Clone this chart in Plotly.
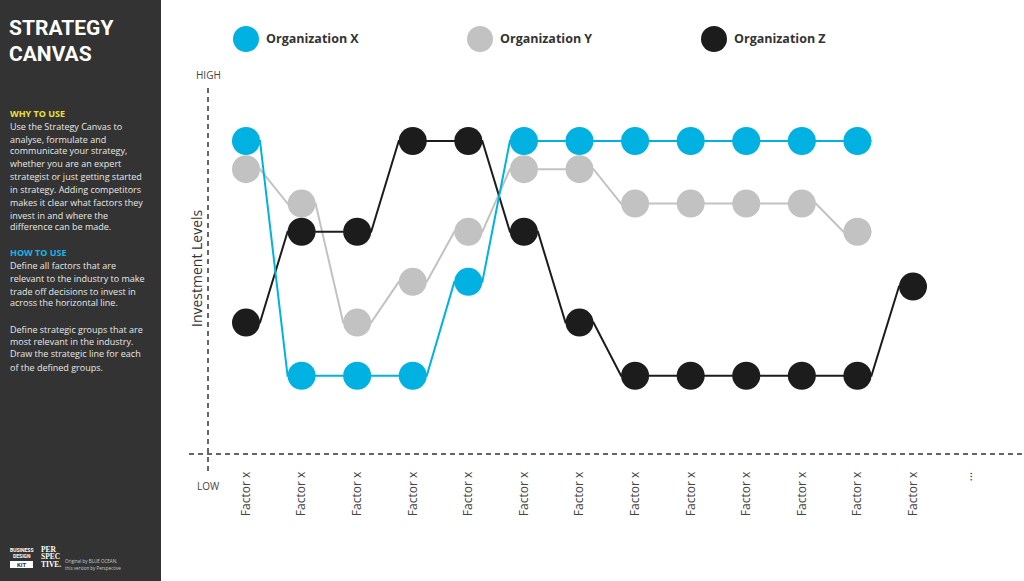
import plotly.graph_objects as go

W, H = 1024, 581

# ---- data ----
factors = list(range(1, 15))
factor_labels = ["Factor x"] * 13 + ["..."]
org_x = [10, 2.5, 2.5, 2.5, 5.5, 10, 10, 10, 10, 10, 10, 10]
org_y = [9.1, 8, 4.2, 5.5, 7.1, 9.1, 9.1, 8, 8, 8, 8, 7.1]
org_z = [4.2, 7.1, 7.1, 10, 10, 7.1, 4.2, 2.5, 2.5, 2.5, 2.5, 2.5, 5.35]
series_names = ["Organization X", "Organization Y", "Organization Z"]
series_colors = ["#00b1e1", "#c1c2c1", "#1c1c1c"]

# ---- helpers ----
def px(x):
    return x / W

def py(y):
    return 1 - y / H

sp = (913 - 246) / 12          # px per factor
MARKER = 28
r = (MARKER / 2) / sp          # marker radius in x data units

fig = go.Figure()

# draw order: gray, black, blue
for vals, name, col in [(org_y, series_names[1], series_colors[1]),
                        (org_z, series_names[2], series_colors[2]),
                        (org_x, series_names[0], series_colors[0])]:
    xs = factors[:len(vals)]
    lx, ly = [], []
    for xv, yv in zip(xs, vals):
        lx += [xv - r, xv + r]
        ly += [yv, yv]
    fig.add_trace(go.Scatter(x=lx, y=ly, mode="lines", line=dict(color=col, width=2),
                             showlegend=False, hoverinfo="skip"))
    fig.add_trace(go.Scatter(
        x=xs, y=vals, mode="markers", name=name,
        marker=dict(size=MARKER, color=col, line=dict(width=0)),
        showlegend=False, hoverinfo="skip"))

shapes = []
annotations = []

# sidebar
shapes.append(dict(type="rect", xref="paper", yref="paper", x0=0, x1=px(161), y0=0, y1=1,
                   fillcolor="#333333", line=dict(width=0), layer="below"))

# dashed axes
shapes.append(dict(type="line", xref="paper", yref="paper", x0=px(208), x1=px(208),
                   y0=py(88), y1=py(473), line=dict(color="#333333", width=1.5, dash="5px,4px")))
shapes.append(dict(type="line", xref="paper", yref="paper", x0=px(189), x1=1,
                   y0=py(454), y1=py(454), line=dict(color="#333333", width=1.5, dash="5px,4px")))

# legend (custom)
leg_pos = [246, 480, 714]
for cx, name, col in zip(leg_pos, series_names, series_colors):
    shapes.append(dict(type="circle", xref="paper", yref="paper", xsizemode="pixel", ysizemode="pixel",
                       xanchor=px(cx), yanchor=py(39), x0=-13, x1=13, y0=-13, y1=13,
                       fillcolor=col, line=dict(width=0)))
    annotations.append(dict(xref="paper", yref="paper", x=px(cx + 18), y=py(39), text="<b>%s</b>" % name,
                            showarrow=False, xanchor="left", yanchor="middle",
                            font=dict(family="Open Sans", size=12.5, color="#333333")))

# HIGH / LOW / axis title
annotations.append(dict(xref="paper", yref="paper", x=px(208), y=py(75), text="HIGH", showarrow=False,
                        xanchor="center", yanchor="middle", font=dict(family="Open Sans", size=10, color="#444444")))
annotations.append(dict(xref="paper", yref="paper", x=px(208), y=py(486), text="LOW", showarrow=False,
                        xanchor="center", yanchor="middle", font=dict(family="Open Sans", size=10, color="#444444")))
annotations.append(dict(xref="paper", yref="paper", x=px(196), y=py(268), text="Investment Levels", showarrow=False,
                        textangle=-90, xanchor="center", yanchor="middle",
                        font=dict(family="Open Sans", size=14, color="#333333")))

# sidebar texts
annotations.append(dict(xref="paper", yref="paper", x=px(7), y=py(28), text="<b>STRATEGY</b>", showarrow=False,
                        xanchor="left", yanchor="middle", font=dict(family="Roboto", size=21, color="#ffffff")))
annotations.append(dict(xref="paper", yref="paper", x=px(7), y=py(54), text="<b>CANVAS</b>", showarrow=False,
                        xanchor="left", yanchor="middle", font=dict(family="Roboto", size=21, color="#ffffff")))

side_lines = [
    (113, "<b>WHY TO USE</b>", "#eee236"),
    (126, "Use the Strategy Canvas to", "#e8e8e8"),
    (139, "analyse, formulate and", "#e8e8e8"),
    (151, "communicate your strategy,", "#e8e8e8"),
    (164, "whether you are an expert", "#e8e8e8"),
    (177, "strategist or just getting started", "#e8e8e8"),
    (189, "in strategy. Adding competitors", "#e8e8e8"),
    (202, "makes it clear what factors they", "#e8e8e8"),
    (215, "invest in and where the", "#e8e8e8"),
    (227, "difference can be made.", "#e8e8e8"),
    (253, "<b>HOW TO USE</b>", "#1ab4e6"),
    (265, "Define all factors that are", "#e8e8e8"),
    (278, "relevant to the industry to make", "#e8e8e8"),
    (291, "trade off decisions to invest in", "#e8e8e8"),
    (303, "across the horizontal line.", "#e8e8e8"),
    (329, "Define strategic groups that are", "#e8e8e8"),
    (341, "most relevant in the industry.", "#e8e8e8"),
    (354, "Draw the strategic line for each", "#e8e8e8"),
    (367, "of the defined groups.", "#e8e8e8"),
]
for yy, t, c in side_lines:
    annotations.append(dict(xref="paper", yref="paper", x=px(8), y=py(yy), text=t, showarrow=False,
                            xanchor="left", yanchor="middle",
                            font=dict(family="Open Sans", size=9, color=c)))

# logo block
for yy, t in [(550, "<b>BUSINESS</b>"), (556, "<b>DESIGN</b>")]:
    annotations.append(dict(xref="paper", yref="paper", x=px(22), y=py(yy), text=t, showarrow=False,
                            xanchor="center", yanchor="middle",
                            font=dict(family="Roboto", size=5, color="#ffffff")))
shapes.append(dict(type="rect", xref="paper", yref="paper", x0=px(10), x1=px(33), y0=py(568), y1=py(561),
                   fillcolor="#ffffff", line=dict(width=0)))
annotations.append(dict(xref="paper", yref="paper", x=px(21.5), y=py(564.5), text="<b>KIT</b>", showarrow=False,
                        xanchor="center", yanchor="middle", font=dict(family="Roboto", size=6, color="#333333")))
for yy, t in [(549, "<b>PER</b>"), (556.5, "<b>SPEC</b>"), (564, "<b>TIVE.</b>")]:
    annotations.append(dict(xref="paper", yref="paper", x=px(38.5), y=py(yy), text=t, showarrow=False,
                            xanchor="left", yanchor="middle",
                            font=dict(family="Liberation Serif", size=7.5, color="#ffffff")))
for yy, t in [(561, "Original by BLUE OCEAN,"), (567.5, "this version by Perspective")]:
    annotations.append(dict(xref="paper", yref="paper", x=px(63), y=py(yy), text=t, showarrow=False,
                            xanchor="left", yanchor="middle",
                            font=dict(family="Open Sans", size=4.5, color="#cccccc")))

# axis ranges: factor 1 at 246px
x0 = 1 - 246 / sp
x1 = x0 + W / sp
unit = (454 - 141) / 10.0

fig.update_layout(
    width=W, height=H, margin=dict(l=0, r=0, t=0, b=0),
    paper_bgcolor="#ffffff", plot_bgcolor="rgba(0,0,0,0)",
    shapes=shapes, annotations=annotations,
    xaxis=dict(domain=[0, 1], range=[x0, x1], tickmode="array", tickvals=factors, ticktext=factor_labels,
               tickangle=-90, ticks="outside", ticklen=12, tickcolor="rgba(0,0,0,0)",
               showgrid=False, zeroline=False, showline=False, fixedrange=True,
               tickfont=dict(family="Open Sans", size=12, color="#444444")),
    yaxis=dict(domain=[(H - 454) / H, 1], range=[0, 454 / unit], visible=False, showgrid=False,
               zeroline=False, fixedrange=True),
    showlegend=False,
)

fig.write_html("out.html")
